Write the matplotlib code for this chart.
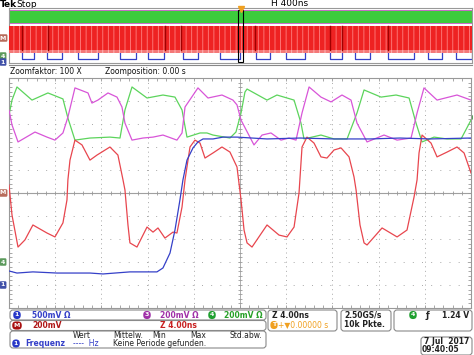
"""
Tek scope screenshot redraw: zoomed window (4 ns/div) + overview (400 ns/div)
"""

import numpy as np
import matplotlib
matplotlib.use("Agg")
import matplotlib.pyplot as plt
from matplotlib.patches import FancyBboxPatch, Rectangle

plt.rcParams['lines.scale_dashes'] = False
plt.rcParams['hatch.linewidth'] = 0.6

# zoomed window: time in ns, level in divisions
ch4_t = [-20.0, -19.74, -19.31, -18.01, -16.63, -15.33, -14.90, -14.29, -12.99, -11.26,
         -10.39, -9.96, -9.35, -8.05, -6.67, -5.63, -5.02, -4.59, -3.46, -2.86,
         -2.34, -0.87, -0.35, 0.09, 0.43, 0.61, 2.34, 3.20, 4.68, 5.28,
         5.54, 7.01, 8.14, 9.27, 10.13, 10.74, 12.21, 13.51, 14.64, 15.24,
         15.76, 16.80, 17.93, 19.14, 20.0]
ch4_v = [3.39, 4.04, 4.61, 4.04, 4.35, 4.09, 3.26, 2.30, 2.39, 2.43,
         2.39, 3.61, 4.61, 4.13, 4.26, 4.17, 3.61, 2.43, 2.61, 2.61,
         2.52, 2.39, 2.65, 3.48, 4.39, 4.52, 4.04, 4.26, 4.04, 3.04,
         2.35, 2.52, 2.35, 2.35, 3.48, 4.48, 4.17, 4.26, 4.13, 3.04,
         2.22, 2.43, 2.35, 2.35, 3.17]

ch3_t = [-20.0, -19.74, -19.22, -17.75, -16.71, -16.02, -15.33, -14.90, -14.29, -13.16,
         -12.82, -12.30, -11.43, -10.65, -10.22, -9.96, -9.35, -8.40, -7.53, -6.67,
         -5.46, -5.02, -4.76, -3.64, -2.77, -1.56, -0.61, -0.26, 0.09, 1.21,
         1.91, 2.68, 3.55, 4.24, 4.85, 5.37, 5.98, 7.01, 7.88, 8.83,
         9.61, 10.13, 11.00, 12.47, 13.60, 14.81, 15.33, 15.93, 17.06, 18.79, 20.0]
ch3_v = [3.61, 2.96, 2.22, 2.65, 2.43, 2.30, 2.61, 3.30, 4.57, 4.35,
         3.91, 4.04, 4.35, 4.17, 3.74, 3.04, 2.30, 2.39, 2.43, 2.52,
         2.30, 2.61, 3.74, 4.57, 4.13, 4.26, 4.04, 3.83, 3.17, 2.09,
         2.52, 2.61, 2.30, 2.39, 2.30, 3.48, 4.61, 4.17, 3.96, 4.26,
         4.04, 3.04, 2.22, 2.52, 2.30, 2.39, 3.48, 4.57, 4.04, 4.26, 4.04]

ch1_t = [-20.0, -19.31, -17.93, -15.85, -12.99, -11.86, -9.53, -7.19, -6.67, -6.06,
         -5.63, -5.20, -4.94, -4.59, -4.07, -3.64, -3.20, -2.34, -1.47, -0.26,
         2.34, 5.20, 8.14, 11.26, 13.86, 16.45, 20.0]
ch1_v = [-3.39, -3.48, -3.43, -3.48, -3.48, -3.52, -3.43, -3.43, -3.26, -2.61,
         -1.61, -0.30, 0.57, 1.43, 1.96, 2.22, 2.35, 2.35, 2.43, 2.43,
         2.35, 2.39, 2.35, 2.35, 2.39, 2.35, 2.39]

math_t = [-20.0, -19.74, -19.22, -18.62, -17.93, -16.71, -16.02, -15.33, -14.98, -14.90,
          -14.72, -14.29, -13.68, -12.99, -12.38, -11.26, -10.57, -10.13, -9.96, -9.70,
          -9.53, -8.92, -8.05, -7.53, -7.10, -6.50, -5.80, -5.46, -5.02, -4.76,
          -4.33, -3.90, -3.46, -3.03, -2.34, -1.56, -0.87, -0.26, 0.09, 0.35,
          0.61, 1.04, 2.34, 3.38, 4.07, 4.68, 5.11, 5.37, 5.80, 6.41,
          7.01, 7.53, 8.14, 8.75, 9.44, 9.87, 10.05, 10.39, 10.74, 11.00,
          12.30, 13.60, 14.46, 15.07, 15.33, 15.50, 15.76, 16.54, 17.06, 17.93,
          18.79, 19.40, 20.0]
math_v = [0.35, -0.96, -2.35, -2.04, -1.39, -1.74, -1.91, -1.30, -0.30, 0.57,
          1.43, 2.30, 2.09, 1.43, 1.65, 2.00, 1.65, 0.57, 0.13, -1.39,
          -2.17, -2.35, -1.48, -1.70, -1.52, -1.96, -1.70, -1.74, -0.61, 0.57,
          2.00, 2.30, 2.17, 1.52, 1.74, 2.00, 1.78, 1.13, -0.30, -1.61,
          -2.17, -2.35, -1.39, -1.83, -1.91, -1.48, 0.0, 2.00, 2.43, 2.17,
          1.57, 1.52, 1.87, 1.96, 1.57, 0.70, 0.13, -1.39, -2.17, -2.26,
          -1.52, -1.91, -1.61, -0.17, 0.57, 1.74, 2.52, 2.17, 1.57, 1.78,
          2.00, 1.74, 0.87]

# overview record (ns): ch1 low intervals, glitches seen in the math trace
ch1_low_start = [-1884, -1668, -1400, -1037, -795, -501, -173, 130, 397, 769, 985, 1270, 1616, 1866]
ch1_low_end = [-1788, -1538, -1227, -907, -665, -363, -5, 251, 553, 873, 1115, 1503, 1737, 2000]
math_glitch_t = [-1892, -1667, -648, -518, 121, 769, 873, 1270]

C_GREEN = '#5cd45c'
C_MAG = '#d855d8'
C_RED = '#e8464e'
C_BLUE = '#3540c8'
C_GRID = '#a8a8a8'

fig = plt.figure(figsize=(4.74, 3.55), dpi=100)
fig.patch.set_facecolor('white')

# background layer in pixel units for labels/boxes
bg = fig.add_axes([0, 0, 1, 1])
bg.set_xlim(0, 474)
bg.set_ylim(355, 0)
bg.axis('off')

# ---------------- main (zoomed) graticule ----------------
ax = fig.add_axes([9 / 474, (355 - 308) / 355, 462 / 474, 230 / 355])
ax.set_xlim(-20, 20)
ax.set_ylim(-5, 5)
ax.set_xticks(np.linspace(-20, 20, 51))
ax.set_yticks(np.linspace(-5, 5, 51))
ax.tick_params(direction='in', length=2, width=0.6, color='#999999',
               top=True, right=True, labelbottom=False, labelleft=False)
for s in ax.spines.values():
    s.set_color('#999999')
    s.set_linewidth(0.8)

for x in [-16, -12, -8, -4, 4, 8, 12, 16]:
    ax.axvline(x, color=C_GRID, lw=0.7, dashes=(0.7, 2.6), zorder=1)
for y in [-4, -3, -2, -1, 1, 2, 3, 4]:
    ax.axhline(y, color=C_GRID, lw=0.7, dashes=(0.7, 5.9), zorder=1)
ax.axhline(0, color='#a0a0a0', lw=0.8, zorder=1)
ax.axvline(0, color='#b0b0b0', lw=0.7, zorder=1)
ax.plot(np.linspace(-20, 20, 51), np.zeros(51), ls='none', marker='|',
        ms=3, mew=0.6, color='#999999', zorder=1)
ax.plot(np.zeros(51), np.linspace(-5, 5, 51), ls='none', marker='_',
        ms=3, mew=0.6, color='#999999', zorder=1)

ax.plot(ch4_t, ch4_v, color=C_GREEN, lw=0.9, zorder=3)
ax.plot(ch3_t, ch3_v, color=C_MAG, lw=0.9, zorder=3)
ax.plot(math_t, math_v, color=C_RED, lw=0.9, zorder=4)
ax.plot(ch1_t, ch1_v, color=C_BLUE, lw=0.9, zorder=5)

# ---------------- overview record ----------------
ov = fig.add_axes([9 / 474, (355 - 63) / 355, 463 / 474, 55 / 355])
ov.set_xlim(-2000, 2000)
ov.set_ylim(-5, 5)
ov.set_xticks([])
ov.set_yticks([])
for s in ov.spines.values():
    s.set_color('#999999')
    s.set_linewidth(0.8)

bx, by = [-2000], [-2.0]
for s, e in zip(ch1_low_start, ch1_low_end):
    bx += [s, s, e, e]
    by += [-2.0, -4.2, -4.2, -2.0]
ov.plot(bx, by, color=C_BLUE, lw=0.9, zorder=1)
ov.fill_between([-2000, 2000], 2.25, 4.55, color='#3ccc3c', lw=0, zorder=2)
ov.axhline(4.6, color='#c86ac8', lw=0.7, zorder=2)
ov.axhline(2.2, color='#c86ac8', lw=0.7, zorder=2)
ov.fill_between([-2000, 2000], -3.0, 1.8, facecolor='#ee2222', edgecolor='#ff8080',
                hatch='|||', lw=0, zorder=3)
ov.fill_between([-2000, 2000], -3.1, -2.6, facecolor='#f47878', edgecolor='#ffc0c0',
                hatch='|||', lw=0, zorder=3)
for g in math_glitch_t:
    ov.plot([g, g], [-2.6, 1.8], color='#a00000', lw=1.0, zorder=4)
ov.add_patch(Rectangle((-20, -4.8), 40, 9.5, fill=False, ec='black', lw=0.8, zorder=5))
ov.plot([0], [4.75], marker='v', color='#f0a020', ms=4, clip_on=False, zorder=6)

# ---------------- header text ----------------
txt = dict(fontsize=5.5, color='#111111', va='center')
bg.text(0, 4.5, 'Tek', fontsize=6.5, fontweight='bold', va='center')
bg.text(16, 4.5, 'Stop', fontsize=6.5, va='center')
bg.text(271, 3, 'H 400ns', fontsize=6.5, va='center')
bg.text(10, 72, 'Zoomfaktor: 100 X', **txt)
bg.text(105, 72, 'Zoomposition: 0.00 s', **txt)
bg.plot([9, 472], [65, 65], color='#888888', lw=0.8)

# channel tags on the left edge
def tag(x, y, s, fc, fs=4.5):
    bg.text(x, y, s, fontsize=fs, color='white', fontweight='bold', ha='center', va='center',
            bbox=dict(boxstyle='round,pad=0.2', fc=fc, ec='none'))

tag(3, 193, 'M', '#b86c5c')
tag(3, 262, '4', '#5c9a5c')
tag(3, 285, '1', '#4050a8')
tag(3, 38, 'M', '#b86c5c')
tag(3, 56, '4', '#5c9a5c')
tag(3, 62, '1', '#4050a8')
tag(240, 82, 'T', '#f0a020', fs=4)
bg.text(470, 118, '◀', fontsize=4.5, color='#2e8a2e', ha='center', va='center')

# ---------------- bottom info panel ----------------
def box(x, y, w, h):
    bg.add_patch(FancyBboxPatch((x, y), w, h, boxstyle='round,pad=0,rounding_size=3',
                                fc='white', ec='#8a8a8a', lw=0.8))

def pill(x, y, s, fc):
    bg.text(x, y, s, fontsize=4.5, color='white', fontweight='bold', ha='center', va='center',
            bbox=dict(boxstyle='round,pad=0.25,rounding_size=0.6', fc=fc, ec='none'))

box(10, 310, 256, 10)
box(10, 320.5, 256, 10)
box(10, 331, 256, 17)
box(268, 310, 69, 21)
box(341, 310, 50, 21)
box(394, 310, 78, 21)
box(421, 337, 51, 18)

b = dict(fontsize=5.5, fontweight='bold', va='center')
pill(17, 315, '1', '#2838c8')
bg.text(32, 315, '500mV Ω', color=C_BLUE, **b)
pill(147, 315, '3', '#a030a8')
bg.text(160, 315, '200mV Ω', color='#a030a8', **b)
pill(212, 315, '4', '#20a030')
bg.text(224, 315, '200mV Ω', color='#28a028', **b)

pill(17, 325.5, 'M', '#a81010')
bg.text(32, 325.5, '200mV', color='#b01818', **b)
bg.text(160, 325.5, 'Z 4.00ns', color='#c82020', **b)

bg.text(73, 335, 'Wert', color='#222222', fontsize=5.5, va='center')
bg.text(113, 335, 'Mittelw.', color='#222222', fontsize=5.5, va='center')
bg.text(152, 335, 'Min', color='#222222', fontsize=5.5, va='center')
bg.text(190, 335, 'Max', color='#222222', fontsize=5.5, va='center')
bg.text(230, 335, 'Std.abw.', color='#222222', fontsize=5.5, va='center')
pill(16, 343.5, '1', '#2838c8')
bg.text(25, 343.5, 'Frequenz', color=C_BLUE, **b)
bg.text(73, 343.5, '----  Hz', color=C_BLUE, fontsize=5.5, va='center')
bg.text(113, 343.5, 'Keine Periode gefunden.', color='#222222', fontsize=5.5, va='center')

bg.text(272, 315, 'Z 4.00ns', color='#222222', **b)
pill(274, 325, 'T', '#f0a020')
bg.text(278, 325, '+▼0.00000 s', color='#f0a020', fontsize=5.5, va='center')
bg.text(344, 315, '2.50GS/s', color='#222222', **b)
bg.text(344, 324.5, '10k Pkte.', color='#222222', **b)
pill(413, 315, '4', '#20a030')
bg.text(426, 315, 'ƒ', color='#222222', fontsize=6, fontweight='bold', va='center')
bg.text(469, 315, '1.24 V', color='#222222', ha='right', **b)
bg.text(424, 342, '7 Jul  2017', color='#222222', **b)
bg.text(422, 350, '09:40:05', color='#222222', **b)

plt.savefig('out.png', dpi=100)
plt.close()
